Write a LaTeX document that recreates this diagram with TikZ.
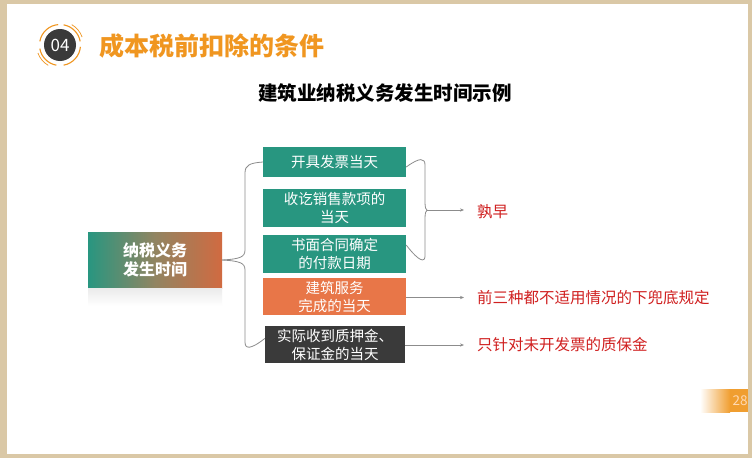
\documentclass[tikz,border=0pt]{standalone}
\usepackage{fontspec}
\setmainfont{Noto Sans CJK SC}
\usetikzlibrary{arrows.meta}
\definecolor{beige}{RGB}{218,200,166}
\definecolor{teal}{RGB}{40,150,128}
\definecolor{orbox}{RGB}{232,118,72}
\definecolor{darkbox}{RGB}{58,58,58}
\definecolor{redtxt}{RGB}{208,32,32}
\definecolor{titleor}{RGB}{240,150,32}
\definecolor{linegray}{RGB}{140,140,140}
\definecolor{pgor}{RGB}{240,158,48}
\tikzset{
  box/.style={fill=#1, text=white, minimum width=143pt, inner sep=0pt, align=center, font=\fontsize{14.5}{18}\selectfont},
  conn/.style={draw=linegray, line width=0.8pt},
  arr/.style={conn, -{Stealth[length=4pt,width=3.2pt]}},
  note/.style={text=redtxt, anchor=west, font=\fontsize{15.5}{18}\selectfont, inner sep=0pt}
}
\begin{document}
\begin{tikzpicture}[x=1pt,y=-1pt]
\useasboundingbox (0,0) rectangle (752,458);
\fill[beige] (0,0) rectangle (752,458);
\fill[white] (7,4) rectangle (748,454);
% badge
\fill[darkbox] (60,45) circle (16);
\node (num) at (60,45) {\textcolor{white}{\fontsize{17}{17}\selectfont 04}};
\begin{scope}[titleor, line width=1.1pt]
\draw (60,45) ++(100:20.5) arc (100:170:20.5);
\draw (60,45) ++(190:20.5) arc (190:265:20.5);
\draw (60,45) ++(280:20.5) arc (280:350:20.5);
\draw (60,45) ++(5:20.5) arc (5:80:20.5);
\draw[line width=0.7pt] (60,45) ++(120:23.5) arc (120:160:23.5);
\draw[line width=0.7pt] (60,45) ++(300:23.5) arc (300:340:23.5);
\end{scope}
\node[anchor=west, inner sep=0pt, text=titleor, font=\fontsize{25}{25}\selectfont\bfseries] (title) at (99,46) {成本税前扣除的条件};
\node[inner sep=0pt, font=\fontsize{19.5}{20}\selectfont\bfseries] (sub) at (385,93) {建筑业纳税义务发生时间示例};
% left node
\shade[left color=teal, right color=orbox!90!black, middle color=teal!45!orbox] (88,232) rectangle (222,288);
\shade[top color=black!8, bottom color=white] (88,288) rectangle (222,306);
\node[inner sep=0pt, text=white, align=center, font=\fontsize{16}{19}\selectfont\bfseries, minimum width=134pt, minimum height=56pt] (L) at (155,260) {纳税义务\\发生时间};
% right boxes
\node[box=teal, minimum height=30pt] (b1) at (334.5,162) {开具发票当天};
\node[box=teal, minimum height=38pt] (b2) at (334.5,208) {收讫销售款项的\\当天};
\node[box=teal, minimum height=38pt] (b3) at (334.5,254) {书面合同确定\\的付款日期};
\node[box=orbox, minimum height=37pt] (b4) at (334.5,296.5) {建筑服务\\完成的当天};
\node[box=darkbox, minimum height=37pt, minimum width=140pt] (b5) at (335,344.5) {实际收到质押金、\\保证金的当天};
% left brace
\coordinate (lt) at (b1.west);
\coordinate (lb) at ([yshift=6pt]b5.west);
\draw[conn] (lt) .. controls (250,163) and (245,165) .. (245,173) -- (245,250)
  .. controls (245,257) and (240,259) .. (L.east);
\draw[conn] (L.east) .. controls (240,261) and (245,263) .. (245,270) -- (245,342)
  .. controls (245,349) and (250,350) .. (lb);
% right brace
\coordinate (rt) at ([yshift=-5pt]b1.east);
\coordinate (rb) at ([yshift=9pt]b3.east);
\coordinate (rm) at (427,210);
\node[note] (n1) at (477,212) {孰早};
\node[note] (n2) at (477,297.5) {前三种都不适用情况的下兜底规定};
\node[note] (n3) at (477,345) {只针对未开发票的质保金};
\draw[conn] (rt) .. controls (420,157) and (425,158) .. (425,165) -- (425,202)
  .. controls (425,208) and (426,210) .. (rm);
\draw[conn] (rm) .. controls (426,211) and (425,213) .. (425,218) -- (425,256)
  .. controls (425,262) and (420,263) .. (rb);
\draw[arr] (rm) -- ([xshift=-13pt]n1.west |- rm);
\draw[arr] (b4.east |- n2.west) -- ([xshift=-13pt]n2.west);
\draw[arr] (b5.east |- n3.west) -- ([xshift=-13pt]n3.west);
% page number
\shade[left color=white, right color=pgor] (700,389) rectangle (730,412);
\fill[pgor] (730,389) rectangle (748,412);
\node[inner sep=0pt, text=orange!30!white, font=\fontsize{13.5}{14}\selectfont] (pg) at (740,400.5) {28};
\end{tikzpicture}
\end{document}
